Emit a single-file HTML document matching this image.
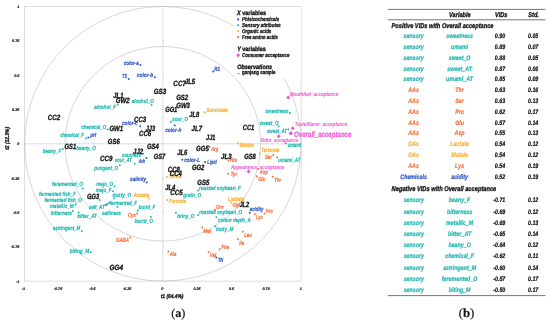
<!DOCTYPE html>
<html><head><meta charset="utf-8"><title>PLS loading plot and VID table</title>
<style>html,body{margin:0;padding:0;background:#fff}svg{display:block}text{text-rendering:geometricPrecision;font-family:"Liberation Sans",Arial,sans-serif;font-weight:bold;font-style:italic}.v{font-size:5.9px;stroke-width:0.2px}.ob{font-size:7.5px;fill:#111;stroke:#111;stroke-width:0.32px}.tk{font-size:3.7px;fill:#111;stroke:#111;stroke-width:0.16px}.lg{font-size:5.6px;fill:#111;stroke:#111;stroke-width:0.3px}.lh{font-size:6.4px;fill:#0c0c0c;stroke:#0c0c0c;stroke-width:0.3px}.up{font-style:normal}.cap{stroke:#111;stroke-width:0.15px;font-family:"Liberation Serif","DejaVu Serif",serif;font-style:normal;font-weight:normal;font-size:11.5px;fill:#111}.tb{font-size:6.6px;stroke-width:0.22px}.th{font-size:6.9px;fill:#111;stroke:#111;stroke-width:0.3px}</style></head><body>
<svg width="550" height="324" viewBox="0 0 550 324">
<rect width="550" height="324" fill="#fff"/>
<rect x="24.6" y="6.5" width="276.5" height="274.6" fill="none" stroke="#c9c9c9" stroke-width="0.6"/>
<path d="M24.6 143.8H301.1M162.85 6.5V281.1" stroke="#c4c4c4" stroke-width="0.6" fill="none"/>
<path d="M59.2 142.8v2M161.85 246.8h2M93.7 142.8v2M161.85 212.5h2M128.3 142.8v2M161.85 178.1h2M197.4 142.8v2M161.85 109.5h2M232.0 142.8v2M161.85 75.2h2M266.5 142.8v2M161.85 40.8h2" stroke="#bdbdbd" stroke-width="0.5" fill="none"/>
<ellipse cx="162.85" cy="143.8" rx="138.25" ry="137.3" fill="none" stroke="#adadad" stroke-width="0.5"/>
<ellipse cx="162.85" cy="143.8" rx="97.8" ry="97.3" fill="none" stroke="#adadad" stroke-width="0.5"/>
<rect x="234.5" y="7" width="66.2" height="71.4" fill="#fff"/>
<circle cx="140.4" cy="64.9" r="1.0" fill="#3058c2"/>
<circle cx="128.7" cy="79.1" r="1.0" fill="#3058c2"/>
<circle cx="154.8" cy="77.2" r="1.0" fill="#3058c2"/>
<circle cx="213.1" cy="71.5" r="1.0" fill="#3058c2"/>
<circle cx="88.3" cy="137.6" r="1.0" fill="#3058c2"/>
<circle cx="140.1" cy="126.2" r="1.0" fill="#3058c2"/>
<circle cx="174.7" cy="125.6" r="1.0" fill="#3058c2"/>
<circle cx="146.5" cy="158.1" r="1.0" fill="#3058c2"/>
<circle cx="182.3" cy="159.7" r="1.0" fill="#3058c2"/>
<circle cx="205" cy="161.9" r="1.0" fill="#3058c2"/>
<circle cx="146.7" cy="182.6" r="1.0" fill="#3058c2"/>
<circle cx="249.7" cy="212.7" r="1.0" fill="#3058c2"/>
<circle cx="216.3" cy="257.5" r="1.0" fill="#3058c2"/>
<circle cx="151.6" cy="105" r="1.0" fill="#22b7b2"/>
<circle cx="117.8" cy="104.7" r="1.0" fill="#22b7b2"/>
<circle cx="107.8" cy="129.6" r="1.0" fill="#22b7b2"/>
<circle cx="85.9" cy="138.6" r="1.0" fill="#22b7b2"/>
<circle cx="62.8" cy="149" r="1.0" fill="#22b7b2"/>
<circle cx="119.8" cy="165.2" r="1.0" fill="#22b7b2"/>
<circle cx="170.8" cy="122.1" r="1.0" fill="#22b7b2"/>
<circle cx="143.1" cy="153.7" r="1.0" fill="#22b7b2"/>
<circle cx="134.7" cy="163.7" r="1.0" fill="#22b7b2"/>
<circle cx="82.9" cy="188.4" r="1.0" fill="#22b7b2"/>
<circle cx="114.4" cy="186.6" r="1.0" fill="#22b7b2"/>
<circle cx="113" cy="191.2" r="1.0" fill="#22b7b2"/>
<circle cx="99.6" cy="200.1" r="1.0" fill="#22b7b2"/>
<circle cx="91.0" cy="198.8" r="1.0" fill="#22b7b2"/>
<circle cx="75.6" cy="204.6" r="1.0" fill="#22b7b2"/>
<circle cx="72.8" cy="211" r="1.0" fill="#22b7b2"/>
<circle cx="78.6" cy="212.4" r="1.0" fill="#22b7b2"/>
<circle cx="106" cy="205" r="1.0" fill="#22b7b2"/>
<circle cx="107.3" cy="203.9" r="1.0" fill="#22b7b2"/>
<circle cx="117.5" cy="207" r="1.0" fill="#22b7b2"/>
<circle cx="114.0" cy="198.6" r="1.0" fill="#22b7b2"/>
<circle cx="81.8" cy="231.2" r="1.0" fill="#22b7b2"/>
<circle cx="90.7" cy="252.3" r="1.0" fill="#22b7b2"/>
<circle cx="137.8" cy="210.5" r="1.0" fill="#22b7b2"/>
<circle cx="150.8" cy="217.1" r="1.0" fill="#22b7b2"/>
<circle cx="198" cy="190.6" r="1.0" fill="#22b7b2"/>
<circle cx="198.2" cy="214.9" r="1.0" fill="#22b7b2"/>
<circle cx="175.9" cy="212.7" r="1.0" fill="#22b7b2"/>
<circle cx="216.4" cy="217.2" r="1.0" fill="#22b7b2"/>
<circle cx="215.1" cy="226.2" r="1.0" fill="#22b7b2"/>
<circle cx="289.9" cy="113.0" r="1.0" fill="#22b7b2"/>
<circle cx="278.4" cy="126.2" r="1.0" fill="#22b7b2"/>
<circle cx="288.4" cy="129.6" r="1.0" fill="#22b7b2"/>
<circle cx="286" cy="143.5" r="1.0" fill="#22b7b2"/>
<circle cx="277.3" cy="157.5" r="1.0" fill="#22b7b2"/>
<circle cx="204.7" cy="112.6" r="1.0" fill="#f6b23a"/>
<circle cx="238" cy="143.3" r="1.0" fill="#f6b23a"/>
<circle cx="259.9" cy="153.6" r="1.0" fill="#f6b23a"/>
<circle cx="166.8" cy="177.1" r="1.0" fill="#f6b23a"/>
<circle cx="148.8" cy="198.2" r="1.0" fill="#f6b23a"/>
<circle cx="167.2" cy="199.9" r="1.0" fill="#f6b23a"/>
<circle cx="230.8" cy="202.5" r="1.0" fill="#f6b23a"/>
<circle cx="209.6" cy="147" r="1.0" fill="#f37440"/>
<circle cx="228.4" cy="160.5" r="1.0" fill="#f37440"/>
<circle cx="273.3" cy="155.1" r="1.0" fill="#f37440"/>
<circle cx="228.1" cy="173.8" r="1.0" fill="#f37440"/>
<circle cx="258.2" cy="169.1" r="1.0" fill="#f37440"/>
<circle cx="256.8" cy="176.2" r="1.0" fill="#f37440"/>
<circle cx="272.7" cy="176.8" r="1.0" fill="#f37440"/>
<circle cx="239.6" cy="203.8" r="1.0" fill="#f37440"/>
<circle cx="214.7" cy="210.1" r="1.0" fill="#f37440"/>
<circle cx="264.5" cy="213.7" r="1.0" fill="#f37440"/>
<circle cx="254.8" cy="214.1" r="1.0" fill="#f37440"/>
<circle cx="137.1" cy="213.5" r="1.0" fill="#f37440"/>
<circle cx="130.4" cy="237.5" r="1.0" fill="#f37440"/>
<circle cx="202.2" cy="227.6" r="1.0" fill="#f37440"/>
<circle cx="242.8" cy="231.8" r="1.0" fill="#f37440"/>
<circle cx="237.9" cy="239.3" r="1.0" fill="#f37440"/>
<circle cx="219.8" cy="249.2" r="1.0" fill="#f37440"/>
<circle cx="208.6" cy="252.1" r="1.0" fill="#f37440"/>
<circle cx="168.4" cy="251.5" r="1.0" fill="#f37440"/>
<circle cx="105.6" cy="204.8" r="1.0" fill="#22b7b2"/>
<circle cx="109.1" cy="202.8" r="1.0" fill="#22b7b2"/>
<text class="v" x="123.7" y="64.9" textLength="15.1" lengthAdjust="spacingAndGlyphs" fill="#3058c2" stroke="#3058c2">color-a</text>
<text class="v" x="122.1" y="78.1" textLength="5.0" lengthAdjust="spacingAndGlyphs" fill="#3058c2" stroke="#3058c2">TS</text>
<text class="v" x="136.8" y="77.1" textLength="16.5" lengthAdjust="spacingAndGlyphs" fill="#3058c2" stroke="#3058c2">color-b</text>
<text class="v" x="214.3" y="70.5" textLength="5.6" lengthAdjust="spacingAndGlyphs" fill="#3058c2" stroke="#3058c2">RS</text>
<text class="v" x="90.3" y="136.5" textLength="6.0" lengthAdjust="spacingAndGlyphs" fill="#3058c2" stroke="#3058c2">pH</text>
<text class="v" x="122.0" y="125.1" textLength="15.7" lengthAdjust="spacingAndGlyphs" fill="#3058c2" stroke="#3058c2">color-c</text>
<text class="v" x="165.2" y="132.1" textLength="16.1" lengthAdjust="spacingAndGlyphs" fill="#3058c2" stroke="#3058c2">color-h</text>
<text class="v" x="138.7" y="163.0" textLength="6.4" lengthAdjust="spacingAndGlyphs" fill="#3058c2" stroke="#3058c2">Ash</text>
<text class="v" x="184.3" y="162.0" textLength="15.7" lengthAdjust="spacingAndGlyphs" fill="#3058c2" stroke="#3058c2">color-L</text>
<text class="v" x="207.2" y="164.2" textLength="9.6" lengthAdjust="spacingAndGlyphs" fill="#3058c2" stroke="#3058c2">Lipid</text>
<text class="v" x="130.1" y="181.3" textLength="16.0" lengthAdjust="spacingAndGlyphs" fill="#3058c2" stroke="#3058c2">salinity</text>
<text class="v" x="249.8" y="211.2" textLength="13.6" lengthAdjust="spacingAndGlyphs" fill="#3058c2" stroke="#3058c2">acidity</text>
<text class="v" x="217.9" y="262.0" textLength="5.4" lengthAdjust="spacingAndGlyphs" fill="#3058c2" stroke="#3058c2">TN</text>
<text class="v" x="131.7" y="103.2" textLength="22.1" lengthAdjust="spacingAndGlyphs" fill="#22b7b2" stroke="#22b7b2">alcohol_O</text>
<text class="v" x="94.3" y="109.1" textLength="21.7" lengthAdjust="spacingAndGlyphs" fill="#22b7b2" stroke="#22b7b2">alcohol_F</text>
<text class="v" x="81.2" y="128.5" textLength="25.1" lengthAdjust="spacingAndGlyphs" fill="#22b7b2" stroke="#22b7b2">chemical_O</text>
<text class="v" x="60.2" y="136.8" textLength="23.7" lengthAdjust="spacingAndGlyphs" fill="#22b7b2" stroke="#22b7b2">chemical_F</text>
<text class="v" x="42.7" y="153.3" textLength="18.5" lengthAdjust="spacingAndGlyphs" fill="#22b7b2" stroke="#22b7b2">beany_F</text>
<text class="v" x="76.2" y="150.0" textLength="19.7" lengthAdjust="spacingAndGlyphs" fill="#22b7b2" stroke="#22b7b2">beany_O</text>
<text class="v" x="94.3" y="170.1" textLength="23.7" lengthAdjust="spacingAndGlyphs" fill="#22b7b2" stroke="#22b7b2">pungent_O</text>
<text class="v" x="172.2" y="120.9" textLength="15.7" lengthAdjust="spacingAndGlyphs" fill="#22b7b2" stroke="#22b7b2">sour_O</text>
<text class="v" x="122.0" y="156.9" textLength="19.1" lengthAdjust="spacingAndGlyphs" fill="#22b7b2" stroke="#22b7b2">sourness</text>
<text class="v" x="115.0" y="162.4" textLength="16.7" lengthAdjust="spacingAndGlyphs" fill="#22b7b2" stroke="#22b7b2">sour_AT</text>
<text class="v" x="52.1" y="186.4" textLength="30.8" lengthAdjust="spacingAndGlyphs" fill="#22b7b2" stroke="#22b7b2">feremented_O</text>
<text class="v" x="96.3" y="185.8" textLength="16.7" lengthAdjust="spacingAndGlyphs" fill="#22b7b2" stroke="#22b7b2">meju_O</text>
<text class="v" x="95.7" y="191.7" textLength="15.7" lengthAdjust="spacingAndGlyphs" fill="#22b7b2" stroke="#22b7b2">meju_F</text>
<text class="v" x="39.1" y="196.0" textLength="36.8" lengthAdjust="spacingAndGlyphs" fill="#22b7b2" stroke="#22b7b2">fermented fish_F</text>
<text class="v" x="44.4" y="202.0" textLength="37.5" lengthAdjust="spacingAndGlyphs" fill="#22b7b2" stroke="#22b7b2">fermented fish_O</text>
<text class="v" x="50.0" y="208.1" textLength="23.7" lengthAdjust="spacingAndGlyphs" fill="#22b7b2" stroke="#22b7b2">metallic_M</text>
<text class="v" x="50.8" y="215.2" textLength="21.3" lengthAdjust="spacingAndGlyphs" fill="#22b7b2" stroke="#22b7b2">bitterness</text>
<text class="v" x="77.3" y="217.8" textLength="19.6" lengthAdjust="spacingAndGlyphs" fill="#22b7b2" stroke="#22b7b2">bitter_AT</text>
<text class="v" x="88.9" y="208.5" textLength="15.8" lengthAdjust="spacingAndGlyphs" fill="#22b7b2" stroke="#22b7b2">salt_AT</text>
<text class="v" x="109.6" y="205.0" textLength="27.5" lengthAdjust="spacingAndGlyphs" fill="#22b7b2" stroke="#22b7b2">fermented_F</text>
<text class="v" x="102.0" y="214.7" textLength="19.1" lengthAdjust="spacingAndGlyphs" fill="#22b7b2" stroke="#22b7b2">saltiness</text>
<text class="v" x="112.4" y="196.5" textLength="18.7" lengthAdjust="spacingAndGlyphs" fill="#22b7b2" stroke="#22b7b2">dusty_O</text>
<text class="v" x="53.1" y="229.8" textLength="27.1" lengthAdjust="spacingAndGlyphs" fill="#22b7b2" stroke="#22b7b2">astringent_M</text>
<text class="v" x="69.8" y="253.2" textLength="19.5" lengthAdjust="spacingAndGlyphs" fill="#22b7b2" stroke="#22b7b2">biting_M</text>
<text class="v" x="138.8" y="209.3" textLength="16.4" lengthAdjust="spacingAndGlyphs" fill="#22b7b2" stroke="#22b7b2">burnt_F</text>
<text class="v" x="134.7" y="223.4" textLength="18.1" lengthAdjust="spacingAndGlyphs" fill="#22b7b2" stroke="#22b7b2">burnt_O</text>
<text class="v" x="183.3" y="196.5" textLength="17.9" lengthAdjust="spacingAndGlyphs" fill="#22b7b2" stroke="#22b7b2">grain_O</text>
<text class="v" x="199.0" y="190.2" textLength="41.8" lengthAdjust="spacingAndGlyphs" fill="#22b7b2" stroke="#22b7b2">roasted soybean_F</text>
<text class="v" x="199.2" y="213.7" textLength="43.0" lengthAdjust="spacingAndGlyphs" fill="#22b7b2" stroke="#22b7b2">roasted soybean_O</text>
<text class="v" x="177.3" y="217.8" textLength="17.1" lengthAdjust="spacingAndGlyphs" fill="#22b7b2" stroke="#22b7b2">briny_O</text>
<text class="v" x="218.1" y="222.0" textLength="32.7" lengthAdjust="spacingAndGlyphs" fill="#22b7b2" stroke="#22b7b2">colour depth_A</text>
<text class="v" x="216.1" y="231.2" textLength="17.1" lengthAdjust="spacingAndGlyphs" fill="#22b7b2" stroke="#22b7b2">body_M</text>
<text class="v" x="265.6" y="113.0" textLength="23.0" lengthAdjust="spacingAndGlyphs" fill="#22b7b2" stroke="#22b7b2">sweetness</text>
<text class="v" x="259.5" y="124.9" textLength="19.0" lengthAdjust="spacingAndGlyphs" fill="#22b7b2" stroke="#22b7b2">sweet_O</text>
<text class="v" x="266.9" y="133.4" textLength="20.1" lengthAdjust="spacingAndGlyphs" fill="#22b7b2" stroke="#22b7b2">sweet_AT</text>
<text class="v" x="287.7" y="146.9" textLength="13.5" lengthAdjust="spacingAndGlyphs" fill="#22b7b2" stroke="#22b7b2">umami</text>
<text class="v" x="278.3" y="161.6" textLength="22.1" lengthAdjust="spacingAndGlyphs" fill="#22b7b2" stroke="#22b7b2">umami_AT</text>
<text class="v" x="206.6" y="112.0" textLength="21.2" lengthAdjust="spacingAndGlyphs" fill="#f6b23a" stroke="#f6b23a">Succinate</text>
<text class="v" x="239.5" y="147.2" textLength="14.3" lengthAdjust="spacingAndGlyphs" fill="#f6b23a" stroke="#f6b23a">Malate</text>
<text class="v" x="261.2" y="151.9" textLength="18.3" lengthAdjust="spacingAndGlyphs" fill="#f6b23a" stroke="#f6b23a">Tartarate</text>
<text class="v" x="169.2" y="178.0" textLength="12.1" lengthAdjust="spacingAndGlyphs" fill="#f6b23a" stroke="#f6b23a">Citrate</text>
<text class="v" x="133.7" y="196.5" textLength="15.5" lengthAdjust="spacingAndGlyphs" fill="#f6b23a" stroke="#f6b23a">Acetate</text>
<text class="v" x="169.0" y="203.2" textLength="17.3" lengthAdjust="spacingAndGlyphs" fill="#f6b23a" stroke="#f6b23a">Formate</text>
<text class="v" x="228.1" y="201.0" textLength="16.1" lengthAdjust="spacingAndGlyphs" fill="#f6b23a" stroke="#f6b23a">Lactate</text>
<text class="v" x="211.2" y="150.8" textLength="7.0" lengthAdjust="spacingAndGlyphs" fill="#f37440" stroke="#f37440">Arg</text>
<text class="v" x="230.1" y="162.0" textLength="7.0" lengthAdjust="spacingAndGlyphs" fill="#f37440" stroke="#f37440">His</text>
<text class="v" x="264.9" y="158.6" textLength="7.0" lengthAdjust="spacingAndGlyphs" fill="#f37440" stroke="#f37440">Ser</text>
<text class="v" x="230.7" y="175.8" textLength="6.4" lengthAdjust="spacingAndGlyphs" fill="#f37440" stroke="#f37440">Tyr</text>
<text class="v" x="259.8" y="173.8" textLength="8.1" lengthAdjust="spacingAndGlyphs" fill="#f37440" stroke="#f37440">Asp</text>
<text class="v" x="258.2" y="181.1" textLength="7.1" lengthAdjust="spacingAndGlyphs" fill="#f37440" stroke="#f37440">Glu</text>
<text class="v" x="274.3" y="181.5" textLength="7.0" lengthAdjust="spacingAndGlyphs" fill="#f37440" stroke="#f37440">Thr</text>
<text class="v" x="232.4" y="207.3" textLength="6.8" lengthAdjust="spacingAndGlyphs" fill="#f37440" stroke="#f37440">Gly</text>
<text class="v" x="216.0" y="208.6" textLength="7.7" lengthAdjust="spacingAndGlyphs" fill="#f37440" stroke="#f37440">Orn</text>
<text class="v" x="265.8" y="212.6" textLength="6.9" lengthAdjust="spacingAndGlyphs" fill="#f37440" stroke="#f37440">Pro</text>
<text class="v" x="255.9" y="219.2" textLength="6.7" lengthAdjust="spacingAndGlyphs" fill="#f37440" stroke="#f37440">Lys</text>
<text class="v" x="128.1" y="217.3" textLength="7.6" lengthAdjust="spacingAndGlyphs" fill="#f37440" stroke="#f37440">Cys</text>
<text class="v" x="116.0" y="242.3" textLength="13.0" lengthAdjust="spacingAndGlyphs" fill="#f37440" stroke="#f37440">GABA</text>
<text class="v" x="203.2" y="233.0" textLength="7.9" lengthAdjust="spacingAndGlyphs" fill="#f37440" stroke="#f37440">Met</text>
<text class="v" x="244.2" y="237.1" textLength="7.6" lengthAdjust="spacingAndGlyphs" fill="#f37440" stroke="#f37440">Leu</text>
<text class="v" x="239.3" y="244.6" textLength="4.8" lengthAdjust="spacingAndGlyphs" fill="#f37440" stroke="#f37440">Ile</text>
<text class="v" x="221.4" y="248.8" textLength="7.6" lengthAdjust="spacingAndGlyphs" fill="#f37440" stroke="#f37440">Phe</text>
<text class="v" x="209.8" y="256.6" textLength="6.5" lengthAdjust="spacingAndGlyphs" fill="#f37440" stroke="#f37440">Val</text>
<text class="v" x="169.7" y="256.0" textLength="6.7" lengthAdjust="spacingAndGlyphs" fill="#f37440" stroke="#f37440">Ala</text>
<path d="M288.2 95.4l2.0 2.0l-2.0 2.0l-2.0 -2.0z" fill="#ee55d4"/>
<path d="M292.7 126.19999999999999l2.0 2.0l-2.0 2.0l-2.0 -2.0z" fill="#ee55d4"/>
<path d="M290.8 130.89999999999998l2.3 2.3l-2.3 2.3l-2.3 -2.3z" fill="#ee55d4"/>
<path d="M278.7 134.2l2.0 2.0l-2.0 2.0l-2.0 -2.0z" fill="#ee55d4"/>
<path d="M248.6 169.5l2.0 2.0l-2.0 2.0l-2.0 -2.0z" fill="#ee55d4"/>
<text class="v" x="289.7" y="95.6" textLength="48.6" lengthAdjust="spacingAndGlyphs" fill="#f062da" stroke="#f062da" style="font-size:5.6px;stroke-width:0.12px">Mouthfeel_acceptance</text>
<text class="v" x="294.7" y="126.2" textLength="52.6" lengthAdjust="spacingAndGlyphs" fill="#f062da" stroke="#f062da" style="font-size:5.6px;stroke-width:0.12px">Taste/flavor_acceptance</text>
<text class="v" x="294.1" y="136.5" textLength="57.3" lengthAdjust="spacingAndGlyphs" fill="#f062da" stroke="#f062da" style="font-size:7.9px;stroke-width:0.28px">Overall_acceptance</text>
<text class="v" x="260.7" y="141.5" textLength="37.8" lengthAdjust="spacingAndGlyphs" fill="#f062da" stroke="#f062da" style="font-size:5.6px;stroke-width:0.12px">Odor_acceptance</text>
<text class="v" x="231.1" y="168.5" textLength="53.2" lengthAdjust="spacingAndGlyphs" fill="#f062da" stroke="#f062da" style="font-size:5.6px;stroke-width:0.12px">Appearance_acceptance</text>
<text class="ob" x="47.7" y="119.8" textLength="12.5" lengthAdjust="spacingAndGlyphs">CC2</text>
<text class="ob" x="113.3" y="98.2" textLength="10.1" lengthAdjust="spacingAndGlyphs">JL1</text>
<text class="ob" x="115.8" y="102.6" textLength="13.9" lengthAdjust="spacingAndGlyphs">GW2</text>
<text class="ob" x="153.7" y="93.6" textLength="12.4" lengthAdjust="spacingAndGlyphs">GS3</text>
<text class="ob" x="173.3" y="86.4" textLength="12.7" lengthAdjust="spacingAndGlyphs">CC7</text>
<text class="ob" x="184.9" y="83.5" textLength="10.1" lengthAdjust="spacingAndGlyphs">JL5</text>
<text class="ob" x="176.2" y="100.0" textLength="11.8" lengthAdjust="spacingAndGlyphs">GS2</text>
<text class="ob" x="176.3" y="108.4" textLength="13.6" lengthAdjust="spacingAndGlyphs">GW3</text>
<text class="ob" x="165.2" y="112.2" textLength="12.1" lengthAdjust="spacingAndGlyphs">GG1</text>
<text class="ob" x="189.3" y="116.8" textLength="9.9" lengthAdjust="spacingAndGlyphs">JL8</text>
<text class="ob" x="134.1" y="121.8" textLength="12.0" lengthAdjust="spacingAndGlyphs">CC3</text>
<text class="ob" x="109.4" y="130.8" textLength="13.8" lengthAdjust="spacingAndGlyphs">GW1</text>
<text class="ob" x="145.7" y="130.6" textLength="9.5" lengthAdjust="spacingAndGlyphs">JJ3</text>
<text class="ob" x="139.1" y="135.8" textLength="12.1" lengthAdjust="spacingAndGlyphs">CC6</text>
<text class="ob" x="191.6" y="131.3" textLength="10.4" lengthAdjust="spacingAndGlyphs">JL7</text>
<text class="ob" x="206.0" y="139.8" textLength="9.4" lengthAdjust="spacingAndGlyphs">JJ1</text>
<text class="ob" x="242.8" y="130.4" textLength="11.5" lengthAdjust="spacingAndGlyphs">CC1</text>
<text class="ob" x="107.8" y="143.5" textLength="11.9" lengthAdjust="spacingAndGlyphs">GS6</text>
<text class="ob" x="64.6" y="148.8" textLength="11.6" lengthAdjust="spacingAndGlyphs">GS1</text>
<text class="ob" x="147.0" y="149.0" textLength="11.9" lengthAdjust="spacingAndGlyphs">GS4</text>
<text class="ob" x="196.1" y="150.6" textLength="12.7" lengthAdjust="spacingAndGlyphs">GG5</text>
<text class="ob" x="133.1" y="153.8" textLength="10.0" lengthAdjust="spacingAndGlyphs">JJ2</text>
<text class="ob" x="99.9" y="161.0" textLength="12.5" lengthAdjust="spacingAndGlyphs">CC9</text>
<text class="ob" x="153.8" y="158.8" textLength="11.4" lengthAdjust="spacingAndGlyphs">GS7</text>
<text class="ob" x="177.3" y="155.1" textLength="10.0" lengthAdjust="spacingAndGlyphs">JL6</text>
<text class="ob" x="221.1" y="158.8" textLength="10.6" lengthAdjust="spacingAndGlyphs">JL3</text>
<text class="ob" x="244.2" y="158.8" textLength="11.6" lengthAdjust="spacingAndGlyphs">GS8</text>
<text class="ob" x="191.9" y="170.0" textLength="12.5" lengthAdjust="spacingAndGlyphs">GG2</text>
<text class="ob" x="167.8" y="172.3" textLength="12.1" lengthAdjust="spacingAndGlyphs">CC8</text>
<text class="ob" x="169.8" y="175.8" textLength="12.1" lengthAdjust="spacingAndGlyphs">CC4</text>
<text class="ob" x="197.3" y="184.8" textLength="11.9" lengthAdjust="spacingAndGlyphs">GS5</text>
<text class="ob" x="165.2" y="189.8" textLength="10.1" lengthAdjust="spacingAndGlyphs">JL4</text>
<text class="ob" x="170.2" y="194.8" textLength="12.5" lengthAdjust="spacingAndGlyphs">CC5</text>
<text class="ob" x="87.1" y="198.8" textLength="12.0" lengthAdjust="spacingAndGlyphs">GG3</text>
<text class="ob" x="239.4" y="206.6" textLength="9.7" lengthAdjust="spacingAndGlyphs">JL2</text>
<text class="ob" x="109.4" y="269.6" textLength="13.6" lengthAdjust="spacingAndGlyphs">GG4</text>
<text class="lh" x="237" y="15.4" textLength="29.0" lengthAdjust="spacingAndGlyphs">X<tspan class="up"> variables</tspan></text>
<circle cx="238.2" cy="19.4" r="1.1" fill="#3058c2"/>
<text class="lg" x="242.1" y="21.0" textLength="37.1" lengthAdjust="spacingAndGlyphs">Phisicochemicals</text>
<circle cx="238.2" cy="25.3" r="1.1" fill="#22b7b2"/>
<text class="lg" x="242.1" y="26.9" textLength="38.7" lengthAdjust="spacingAndGlyphs">Sensory attributes</text>
<circle cx="238.2" cy="31.2" r="1.1" fill="#f6b23a"/>
<text class="lg" x="242.1" y="32.8" textLength="29.2" lengthAdjust="spacingAndGlyphs">Organic acids</text>
<circle cx="238.2" cy="37.1" r="1.1" fill="#f37440"/>
<text class="lg" x="242.1" y="38.7" textLength="35.9" lengthAdjust="spacingAndGlyphs">Free amino acids</text>
<text class="lh" x="237.2" y="51.3" textLength="28.5" lengthAdjust="spacingAndGlyphs">Y<tspan class="up"> variables</tspan></text>
<path d="M238.2 53.3l2.0 2.0l-2.0 2.0l-2.0 -2.0z" fill="#ee55d4"/>
<text class="lg" x="242.1" y="57.1" textLength="47.3" lengthAdjust="spacingAndGlyphs">Consumer acceptance</text>
<text class="lh" x="237.2" y="68.9" textLength="34.9" lengthAdjust="spacingAndGlyphs">Observations</text>
<text class="lg up" x="237.2" y="74.3" textLength="2.6" lengthAdjust="spacingAndGlyphs" style="fill:#888;stroke:#888">...</text>
<text class="lg up" x="242.1" y="74.3" textLength="33.4" lengthAdjust="spacingAndGlyphs">ganjang sample</text>
<text class="tk" x="23.4" y="289.5" text-anchor="middle">-1</text>
<text class="tk" x="19.3" y="282.7" text-anchor="end">-1</text>
<text class="tk" x="58.0" y="289.5" text-anchor="middle">-0.75</text>
<text class="tk" x="19.3" y="248.4" text-anchor="end">-0.75</text>
<text class="tk" x="92.5" y="289.5" text-anchor="middle">-0.5</text>
<text class="tk" x="19.3" y="214.1" text-anchor="end">-0.5</text>
<text class="tk" x="127.1" y="289.5" text-anchor="middle">-0.25</text>
<text class="tk" x="19.3" y="179.7" text-anchor="end">-0.25</text>
<text class="tk" x="162.4" y="289.5" text-anchor="middle">0</text>
<text class="tk" x="19.3" y="145.4" text-anchor="end">0</text>
<text class="tk" x="197.0" y="289.5" text-anchor="middle">0.25</text>
<text class="tk" x="19.3" y="111.1" text-anchor="end">0.25</text>
<text class="tk" x="231.6" y="289.5" text-anchor="middle">0.5</text>
<text class="tk" x="19.3" y="76.8" text-anchor="end">0.5</text>
<text class="tk" x="266.1" y="289.5" text-anchor="middle">0.75</text>
<text class="tk" x="19.3" y="42.4" text-anchor="end">0.75</text>
<text class="tk" x="300.7" y="289.5" text-anchor="middle">1</text>
<text class="tk" x="19.3" y="8.1" text-anchor="end">1</text>
<text class="lg" x="160.7" y="297.9" textLength="22.8" lengthAdjust="spacingAndGlyphs">t1 (64.4%)</text>
<text class="lg" transform="translate(8.5,149.8) rotate(-90)" textLength="22.9" lengthAdjust="spacingAndGlyphs">t2 (12.3%)</text>
<text class="cap" x="178.3" y="316.8" text-anchor="middle" style="font-size:12.1px">(<tspan font-weight="bold">a</tspan>)</text>
<text class="cap" x="466.5" y="317.4" text-anchor="middle" style="font-size:12.8px">(<tspan font-weight="bold">b</tspan>)</text>
<path d="M387.8 9.4H545.4M387.8 19.8H545.4M387.8 295.6H545.4" stroke="#666" stroke-width="0.9"/>
<text class="th" x="459.9" y="17.0" text-anchor="middle" fill="#111" stroke="#111" textLength="21.6" lengthAdjust="spacingAndGlyphs">Variable</text>
<text class="th" x="501.2" y="17.0" text-anchor="middle" fill="#111" stroke="#111" textLength="12.5" lengthAdjust="spacingAndGlyphs">VIDs</text>
<text class="th" x="533.6" y="17.0" text-anchor="middle" fill="#111" stroke="#111" textLength="10.5" lengthAdjust="spacingAndGlyphs">Std.</text>
<text class="th" x="391.6" y="27.5" textLength="101.9" lengthAdjust="spacingAndGlyphs">Positive VIDs with Overall acceptance</text>
<text class="th" x="391.6" y="191.3" textLength="104.7" lengthAdjust="spacingAndGlyphs">Negative VIDs with Overall acceptance</text>
<text class="tb" x="413.6" y="38.2" text-anchor="middle" fill="#22b7b2" stroke="#22b7b2" textLength="20.3" lengthAdjust="spacingAndGlyphs">sensory</text>
<text class="tb" x="459.6" y="38.2" text-anchor="middle" fill="#22b7b2" stroke="#22b7b2" textLength="26.8" lengthAdjust="spacingAndGlyphs">sweetness</text>
<text class="tb" x="494.8" y="38.2" fill="#111" stroke="#111" textLength="10.3" lengthAdjust="spacingAndGlyphs">0.90</text>
<text class="tb" x="528.0" y="38.2" fill="#111" stroke="#111" textLength="10.3" lengthAdjust="spacingAndGlyphs">0.05</text>
<text class="tb" x="413.6" y="49.0" text-anchor="middle" fill="#22b7b2" stroke="#22b7b2" textLength="20.3" lengthAdjust="spacingAndGlyphs">sensory</text>
<text class="tb" x="459.6" y="49.0" text-anchor="middle" fill="#22b7b2" stroke="#22b7b2" textLength="17.1" lengthAdjust="spacingAndGlyphs">umami</text>
<text class="tb" x="494.8" y="49.0" fill="#111" stroke="#111" textLength="10.3" lengthAdjust="spacingAndGlyphs">0.89</text>
<text class="tb" x="528.0" y="49.0" fill="#111" stroke="#111" textLength="10.3" lengthAdjust="spacingAndGlyphs">0.07</text>
<text class="tb" x="413.6" y="59.8" text-anchor="middle" fill="#22b7b2" stroke="#22b7b2" textLength="20.3" lengthAdjust="spacingAndGlyphs">sensory</text>
<text class="tb" x="459.6" y="59.8" text-anchor="middle" fill="#22b7b2" stroke="#22b7b2" textLength="21.8" lengthAdjust="spacingAndGlyphs">sweet_O</text>
<text class="tb" x="494.8" y="59.8" fill="#111" stroke="#111" textLength="10.3" lengthAdjust="spacingAndGlyphs">0.88</text>
<text class="tb" x="528.0" y="59.8" fill="#111" stroke="#111" textLength="10.3" lengthAdjust="spacingAndGlyphs">0.05</text>
<text class="tb" x="413.6" y="70.6" text-anchor="middle" fill="#22b7b2" stroke="#22b7b2" textLength="20.3" lengthAdjust="spacingAndGlyphs">sensory</text>
<text class="tb" x="459.6" y="70.6" text-anchor="middle" fill="#22b7b2" stroke="#22b7b2" textLength="24.7" lengthAdjust="spacingAndGlyphs">sweet_AT</text>
<text class="tb" x="494.8" y="70.6" fill="#111" stroke="#111" textLength="10.3" lengthAdjust="spacingAndGlyphs">0.87</text>
<text class="tb" x="528.0" y="70.6" fill="#111" stroke="#111" textLength="10.3" lengthAdjust="spacingAndGlyphs">0.06</text>
<text class="tb" x="413.6" y="81.4" text-anchor="middle" fill="#22b7b2" stroke="#22b7b2" textLength="20.3" lengthAdjust="spacingAndGlyphs">sensory</text>
<text class="tb" x="459.6" y="81.4" text-anchor="middle" fill="#22b7b2" stroke="#22b7b2" textLength="27.0" lengthAdjust="spacingAndGlyphs">umami_AT</text>
<text class="tb" x="494.8" y="81.4" fill="#111" stroke="#111" textLength="10.3" lengthAdjust="spacingAndGlyphs">0.85</text>
<text class="tb" x="528.0" y="81.4" fill="#111" stroke="#111" textLength="10.3" lengthAdjust="spacingAndGlyphs">0.09</text>
<text class="tb" x="413.6" y="92.2" text-anchor="middle" fill="#f37440" stroke="#f37440" textLength="10.6" lengthAdjust="spacingAndGlyphs">AAs</text>
<text class="tb" x="459.6" y="92.2" text-anchor="middle" fill="#f37440" stroke="#f37440" textLength="8.5" lengthAdjust="spacingAndGlyphs">Thr</text>
<text class="tb" x="494.8" y="92.2" fill="#111" stroke="#111" textLength="10.3" lengthAdjust="spacingAndGlyphs">0.63</text>
<text class="tb" x="528.0" y="92.2" fill="#111" stroke="#111" textLength="10.3" lengthAdjust="spacingAndGlyphs">0.16</text>
<text class="tb" x="413.6" y="102.9" text-anchor="middle" fill="#f37440" stroke="#f37440" textLength="10.6" lengthAdjust="spacingAndGlyphs">AAs</text>
<text class="tb" x="459.6" y="102.9" text-anchor="middle" fill="#f37440" stroke="#f37440" textLength="8.5" lengthAdjust="spacingAndGlyphs">Ser</text>
<text class="tb" x="494.8" y="102.9" fill="#111" stroke="#111" textLength="10.3" lengthAdjust="spacingAndGlyphs">0.63</text>
<text class="tb" x="528.0" y="102.9" fill="#111" stroke="#111" textLength="10.3" lengthAdjust="spacingAndGlyphs">0.13</text>
<text class="tb" x="413.6" y="113.7" text-anchor="middle" fill="#f37440" stroke="#f37440" textLength="10.6" lengthAdjust="spacingAndGlyphs">AAs</text>
<text class="tb" x="459.6" y="113.7" text-anchor="middle" fill="#f37440" stroke="#f37440" textLength="8.8" lengthAdjust="spacingAndGlyphs">Pro</text>
<text class="tb" x="494.8" y="113.7" fill="#111" stroke="#111" textLength="10.3" lengthAdjust="spacingAndGlyphs">0.62</text>
<text class="tb" x="528.0" y="113.7" fill="#111" stroke="#111" textLength="10.3" lengthAdjust="spacingAndGlyphs">0.17</text>
<text class="tb" x="413.6" y="124.5" text-anchor="middle" fill="#f37440" stroke="#f37440" textLength="10.6" lengthAdjust="spacingAndGlyphs">AAs</text>
<text class="tb" x="459.6" y="124.5" text-anchor="middle" fill="#f37440" stroke="#f37440" textLength="8.8" lengthAdjust="spacingAndGlyphs">Glu</text>
<text class="tb" x="494.8" y="124.5" fill="#111" stroke="#111" textLength="10.3" lengthAdjust="spacingAndGlyphs">0.57</text>
<text class="tb" x="528.0" y="124.5" fill="#111" stroke="#111" textLength="10.3" lengthAdjust="spacingAndGlyphs">0.14</text>
<text class="tb" x="413.6" y="135.3" text-anchor="middle" fill="#f37440" stroke="#f37440" textLength="10.6" lengthAdjust="spacingAndGlyphs">AAs</text>
<text class="tb" x="459.6" y="135.3" text-anchor="middle" fill="#f37440" stroke="#f37440" textLength="10.0" lengthAdjust="spacingAndGlyphs">Asp</text>
<text class="tb" x="494.8" y="135.3" fill="#111" stroke="#111" textLength="10.3" lengthAdjust="spacingAndGlyphs">0.55</text>
<text class="tb" x="528.0" y="135.3" fill="#111" stroke="#111" textLength="10.3" lengthAdjust="spacingAndGlyphs">0.13</text>
<text class="tb" x="413.6" y="146.1" text-anchor="middle" fill="#f6b23a" stroke="#f6b23a" textLength="10.9" lengthAdjust="spacingAndGlyphs">OAs</text>
<text class="tb" x="459.6" y="146.1" text-anchor="middle" fill="#f6b23a" stroke="#f6b23a" textLength="18.5" lengthAdjust="spacingAndGlyphs">Lactate</text>
<text class="tb" x="494.8" y="146.1" fill="#111" stroke="#111" textLength="10.3" lengthAdjust="spacingAndGlyphs">0.54</text>
<text class="tb" x="528.0" y="146.1" fill="#111" stroke="#111" textLength="10.3" lengthAdjust="spacingAndGlyphs">0.12</text>
<text class="tb" x="413.6" y="156.9" text-anchor="middle" fill="#f6b23a" stroke="#f6b23a" textLength="10.9" lengthAdjust="spacingAndGlyphs">OAs</text>
<text class="tb" x="459.6" y="156.9" text-anchor="middle" fill="#f6b23a" stroke="#f6b23a" textLength="16.5" lengthAdjust="spacingAndGlyphs">Malate</text>
<text class="tb" x="494.8" y="156.9" fill="#111" stroke="#111" textLength="10.3" lengthAdjust="spacingAndGlyphs">0.54</text>
<text class="tb" x="528.0" y="156.9" fill="#111" stroke="#111" textLength="10.3" lengthAdjust="spacingAndGlyphs">0.12</text>
<text class="tb" x="413.6" y="167.7" text-anchor="middle" fill="#f37440" stroke="#f37440" textLength="10.6" lengthAdjust="spacingAndGlyphs">AAs</text>
<text class="tb" x="459.6" y="167.7" text-anchor="middle" fill="#f37440" stroke="#f37440" textLength="9.1" lengthAdjust="spacingAndGlyphs">Lys</text>
<text class="tb" x="494.8" y="167.7" fill="#111" stroke="#111" textLength="10.3" lengthAdjust="spacingAndGlyphs">0.54</text>
<text class="tb" x="528.0" y="167.7" fill="#111" stroke="#111" textLength="10.3" lengthAdjust="spacingAndGlyphs">0.19</text>
<text class="tb" x="413.6" y="178.5" text-anchor="middle" fill="#3058c2" stroke="#3058c2" textLength="26.5" lengthAdjust="spacingAndGlyphs">Chemicals</text>
<text class="tb" x="459.6" y="178.5" text-anchor="middle" fill="#3058c2" stroke="#3058c2" textLength="16.8" lengthAdjust="spacingAndGlyphs">acidity</text>
<text class="tb" x="494.8" y="178.5" fill="#111" stroke="#111" textLength="10.3" lengthAdjust="spacingAndGlyphs">0.52</text>
<text class="tb" x="528.0" y="178.5" fill="#111" stroke="#111" textLength="10.3" lengthAdjust="spacingAndGlyphs">0.19</text>
<text class="tb" x="413.8" y="202.4" text-anchor="middle" fill="#22b7b2" stroke="#22b7b2" textLength="20.3" lengthAdjust="spacingAndGlyphs">sensory</text>
<text class="tb" x="459.6" y="202.4" text-anchor="middle" fill="#22b7b2" stroke="#22b7b2" textLength="21.5" lengthAdjust="spacingAndGlyphs">beany_F</text>
<text class="tb" x="493.2" y="202.4" fill="#111" stroke="#111" textLength="12.1" lengthAdjust="spacingAndGlyphs">-0.71</text>
<text class="tb" x="528.0" y="202.4" fill="#111" stroke="#111" textLength="10.3" lengthAdjust="spacingAndGlyphs">0.12</text>
<text class="tb" x="413.8" y="213.6" text-anchor="middle" fill="#22b7b2" stroke="#22b7b2" textLength="20.3" lengthAdjust="spacingAndGlyphs">sensory</text>
<text class="tb" x="459.6" y="213.6" text-anchor="middle" fill="#22b7b2" stroke="#22b7b2" textLength="25.3" lengthAdjust="spacingAndGlyphs">bitterness</text>
<text class="tb" x="493.2" y="213.6" fill="#111" stroke="#111" textLength="12.1" lengthAdjust="spacingAndGlyphs">-0.69</text>
<text class="tb" x="528.0" y="213.6" fill="#111" stroke="#111" textLength="10.3" lengthAdjust="spacingAndGlyphs">0.12</text>
<text class="tb" x="413.8" y="224.8" text-anchor="middle" fill="#22b7b2" stroke="#22b7b2" textLength="20.3" lengthAdjust="spacingAndGlyphs">sensory</text>
<text class="tb" x="459.6" y="224.8" text-anchor="middle" fill="#22b7b2" stroke="#22b7b2" textLength="27.0" lengthAdjust="spacingAndGlyphs">metallic_M</text>
<text class="tb" x="493.2" y="224.8" fill="#111" stroke="#111" textLength="12.1" lengthAdjust="spacingAndGlyphs">-0.69</text>
<text class="tb" x="528.0" y="224.8" fill="#111" stroke="#111" textLength="10.3" lengthAdjust="spacingAndGlyphs">0.13</text>
<text class="tb" x="413.8" y="236.0" text-anchor="middle" fill="#22b7b2" stroke="#22b7b2" textLength="20.3" lengthAdjust="spacingAndGlyphs">sensory</text>
<text class="tb" x="459.6" y="236.0" text-anchor="middle" fill="#22b7b2" stroke="#22b7b2" textLength="23.2" lengthAdjust="spacingAndGlyphs">bitter_AT</text>
<text class="tb" x="493.2" y="236.0" fill="#111" stroke="#111" textLength="12.1" lengthAdjust="spacingAndGlyphs">-0.65</text>
<text class="tb" x="528.0" y="236.0" fill="#111" stroke="#111" textLength="10.3" lengthAdjust="spacingAndGlyphs">0.14</text>
<text class="tb" x="413.8" y="247.2" text-anchor="middle" fill="#22b7b2" stroke="#22b7b2" textLength="20.3" lengthAdjust="spacingAndGlyphs">sensory</text>
<text class="tb" x="459.6" y="247.2" text-anchor="middle" fill="#22b7b2" stroke="#22b7b2" textLength="22.3" lengthAdjust="spacingAndGlyphs">beany_O</text>
<text class="tb" x="493.2" y="247.2" fill="#111" stroke="#111" textLength="12.1" lengthAdjust="spacingAndGlyphs">-0.64</text>
<text class="tb" x="528.0" y="247.2" fill="#111" stroke="#111" textLength="10.3" lengthAdjust="spacingAndGlyphs">0.12</text>
<text class="tb" x="413.8" y="258.4" text-anchor="middle" fill="#22b7b2" stroke="#22b7b2" textLength="20.3" lengthAdjust="spacingAndGlyphs">sensory</text>
<text class="tb" x="459.6" y="258.4" text-anchor="middle" fill="#22b7b2" stroke="#22b7b2" textLength="28.8" lengthAdjust="spacingAndGlyphs">chemical_F</text>
<text class="tb" x="493.2" y="258.4" fill="#111" stroke="#111" textLength="12.1" lengthAdjust="spacingAndGlyphs">-0.62</text>
<text class="tb" x="528.0" y="258.4" fill="#111" stroke="#111" textLength="10.3" lengthAdjust="spacingAndGlyphs">0.11</text>
<text class="tb" x="413.8" y="269.6" text-anchor="middle" fill="#22b7b2" stroke="#22b7b2" textLength="20.3" lengthAdjust="spacingAndGlyphs">sensory</text>
<text class="tb" x="459.6" y="269.6" text-anchor="middle" fill="#22b7b2" stroke="#22b7b2" textLength="32.9" lengthAdjust="spacingAndGlyphs">astringent_M</text>
<text class="tb" x="493.2" y="269.6" fill="#111" stroke="#111" textLength="12.1" lengthAdjust="spacingAndGlyphs">-0.60</text>
<text class="tb" x="528.0" y="269.6" fill="#111" stroke="#111" textLength="10.3" lengthAdjust="spacingAndGlyphs">0.14</text>
<text class="tb" x="413.8" y="280.8" text-anchor="middle" fill="#22b7b2" stroke="#22b7b2" textLength="20.3" lengthAdjust="spacingAndGlyphs">sensory</text>
<text class="tb" x="459.6" y="280.8" text-anchor="middle" fill="#22b7b2" stroke="#22b7b2" textLength="35.6" lengthAdjust="spacingAndGlyphs">feremented_O</text>
<text class="tb" x="493.2" y="280.8" fill="#111" stroke="#111" textLength="12.1" lengthAdjust="spacingAndGlyphs">-0.57</text>
<text class="tb" x="528.0" y="280.8" fill="#111" stroke="#111" textLength="10.3" lengthAdjust="spacingAndGlyphs">0.17</text>
<text class="tb" x="413.8" y="292.0" text-anchor="middle" fill="#22b7b2" stroke="#22b7b2" textLength="20.3" lengthAdjust="spacingAndGlyphs">sensory</text>
<text class="tb" x="459.6" y="292.0" text-anchor="middle" fill="#22b7b2" stroke="#22b7b2" textLength="21.7" lengthAdjust="spacingAndGlyphs">biting_M</text>
<text class="tb" x="493.2" y="292.0" fill="#111" stroke="#111" textLength="12.1" lengthAdjust="spacingAndGlyphs">-0.50</text>
<text class="tb" x="528.0" y="292.0" fill="#111" stroke="#111" textLength="10.3" lengthAdjust="spacingAndGlyphs">0.17</text>
</svg></body></html>
